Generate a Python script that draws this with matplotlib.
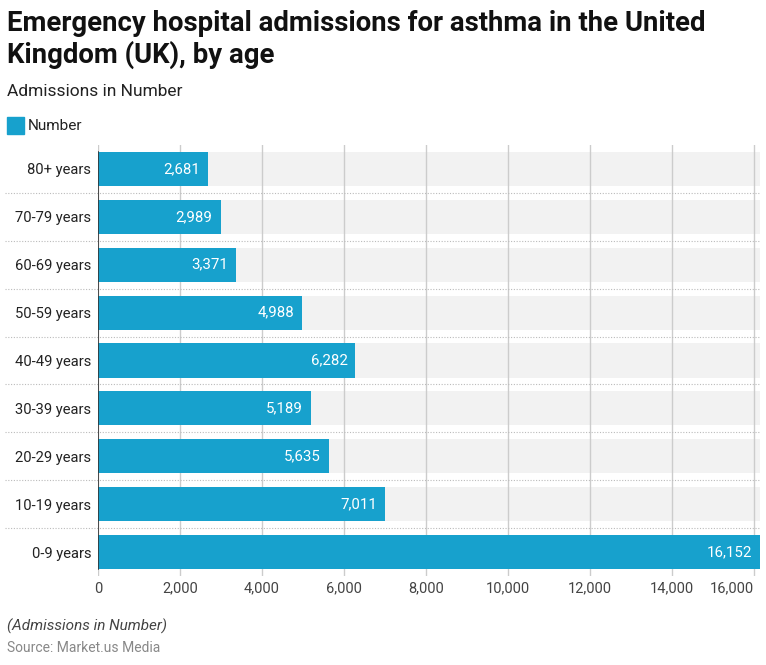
import matplotlib.pyplot as plt
from matplotlib.patches import Rectangle

# Data
ages = ["80+ years", "70-79 years", "60-69 years", "50-59 years", "40-49 years",
        "30-39 years", "20-29 years", "10-19 years", "0-9 years"]
admissions = [2681, 2989, 3371, 4988, 6282, 5189, 5635, 7011, 16152]
xticks = [0, 2000, 4000, 6000, 8000, 10000, 12000, 14000, 16000]

bar_color = "#17a1cd"
plt.rcParams["font.family"] = ["Roboto", "DejaVu Sans"]

fig = plt.figure(figsize=(7.66, 6.65), dpi=100)
ax = fig.add_axes([98 / 766, 1 - 576 / 665, (760 - 98) / 766, (576 - 145) / 665])

n = len(ages)
ypos = list(range(n))
xmax = max(admissions)
h = 0.71

# row background bands
for y in ypos:
    ax.barh(y, xmax, height=h, color="#f2f2f2", zorder=0)

for x in xticks:
    ax.axvline(x, color="#cccccc", lw=1, zorder=1)

ax.barh(ypos, admissions, height=h, color=bar_color, zorder=2)

for y, v in zip(ypos, admissions):
    ax.text(v - xmax * 0.012, y, f"{v:,}", ha="right", va="center",
            color="white", fontsize=10.8, zorder=3)

# dotted separators between rows (extend into label area)
for y in range(n - 1):
    ax.plot([-0.14, 1], [1 - (y + 1) / n] * 2, transform=ax.transAxes,
            color="#bbbbbb", lw=0.8, ls=(0, (1, 1.5)), clip_on=False, zorder=1)

ax.plot([0, 0], [-0.5 + (1 - h) / 2, n - 0.5 - (1 - h) / 2], color="#333333", lw=1.2, zorder=4)

ax.set_xlim(0, xmax)
ax.set_ylim(n - 0.5, -0.5)
ax.set_yticks(ypos)
ax.set_yticklabels(ages, fontsize=10.6, color="#222222")
ax.set_xticks(xticks)
ax.set_xticklabels([f"{x:,}" for x in xticks], fontsize=10.5, color="#444444")
lbls = ax.get_xticklabels()
lbls[-1].set_horizontalalignment("right")
lbls[-1].set_x(xmax)
ax.tick_params(axis="y", length=0, pad=5)
ax.tick_params(axis="x", length=0, pad=4)
for s in ax.spines.values():
    s.set_visible(False)

fig.text(7 / 766, 1 - 10 / 665,
         "Emergency hospital admissions for asthma in the United\nKingdom (UK), by age",
         fontsize=19.8, fontweight="bold", va="top", ha="left", color="#111111",
         linespacing=1.17)
fig.text(7 / 766, 1 - 92 / 665, "Admissions in Number", fontsize=12.5,
         va="center", ha="left", color="#222222")
fig.patches.append(Rectangle((7 / 766, 1 - 134 / 665), 17 / 766, 17 / 665,
                             transform=fig.transFigure, color=bar_color))
fig.text(28 / 766, 1 - 126 / 665, "Number", fontsize=11, va="center",
         ha="left", color="#222222")
fig.text(7 / 766, 1 - 626 / 665, "(Admissions in Number)", fontsize=11,
         style="italic", va="center", ha="left", color="#444444")
fig.text(7 / 766, 1 - 648 / 665, "Source: Market.us Media", fontsize=10,
         va="center", ha="left", color="#888888")

fig.savefig("out.png", dpi=100)
